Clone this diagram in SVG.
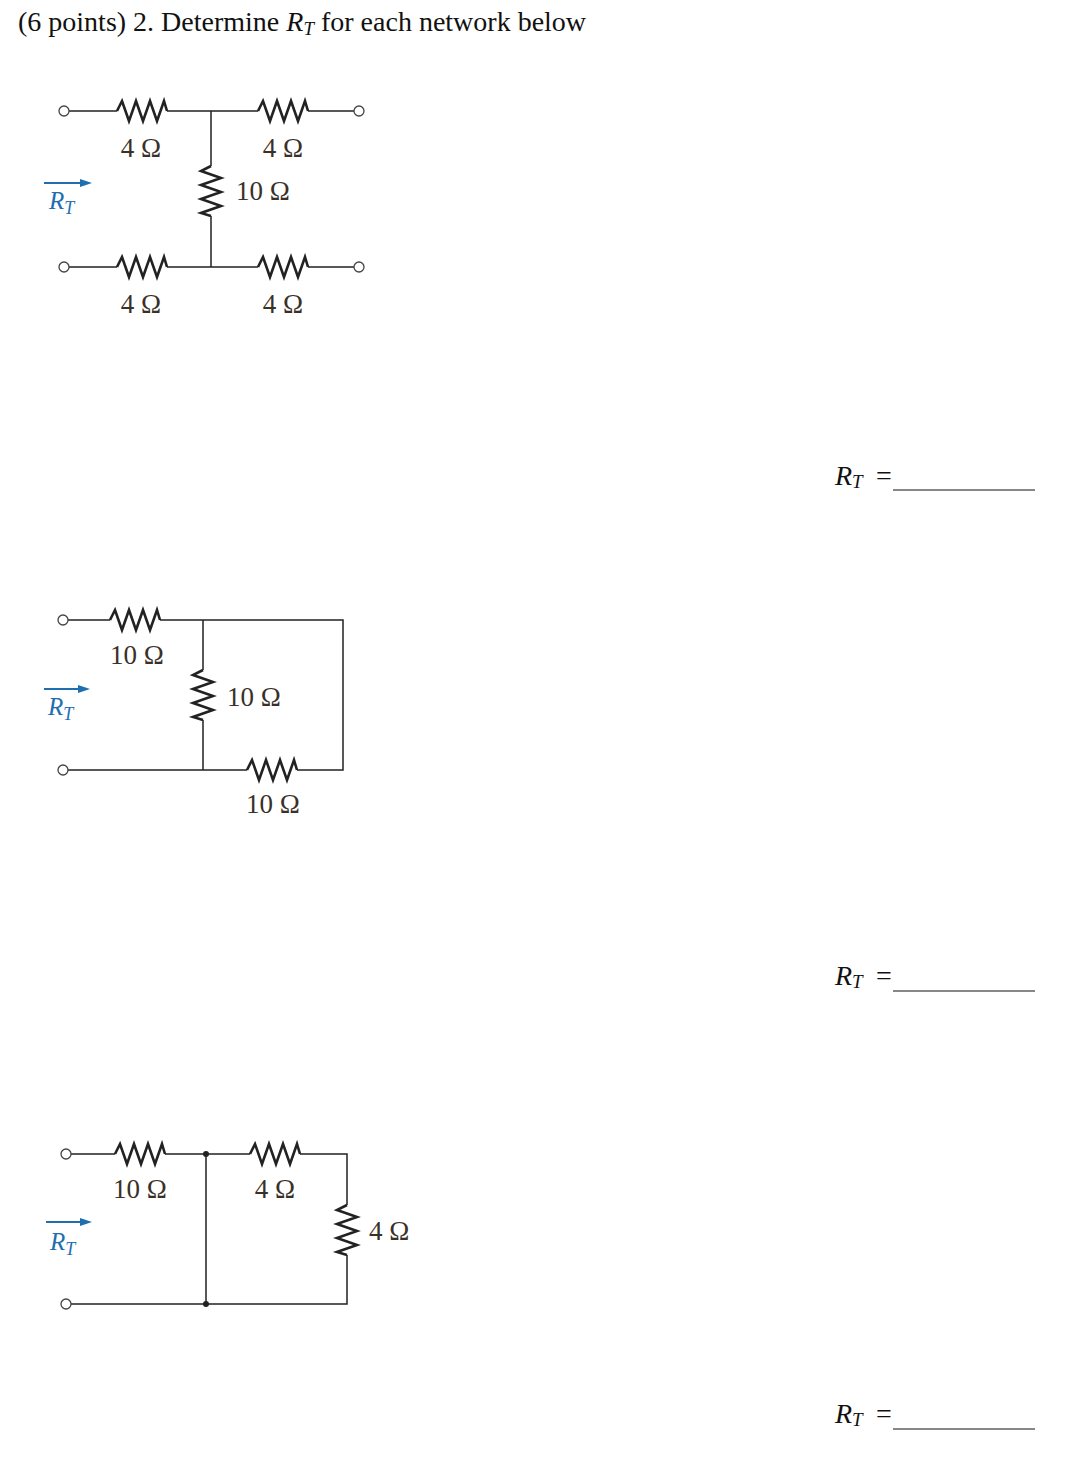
<svg xmlns="http://www.w3.org/2000/svg" width="1066" height="1482" viewBox="0 0 1066 1482">
<style>
.w{fill:none;stroke:#222;stroke-width:1.5}
.z{fill:none;stroke:#222;stroke-width:2.6;stroke-linejoin:miter}
.t{fill:#fff;stroke:#444;stroke-width:1.3}
.l{font-family:"Liberation Serif",serif;font-size:27px;fill:#3a3028}
.b{font-family:"Liberation Serif",serif;font-size:25px;font-style:italic;fill:#1f6fb0}
.a{stroke:#1f6fb0;stroke-width:2}
.q{font-family:"Liberation Serif",serif;font-size:28px;fill:#111}
</style>
<defs>
<polyline id="h" points="0,0 5,-10 12,10 19,-10 26,10 33,-10 40,10 47,-10 50,0"/>
<polyline id="v" points="0,0 -10,5 10,12 -10,19 10,26 -10,33 10,40 -10,47 0,50"/>
<path id="ar" d="M0,0 L-12,-4 L-12,4Z" fill="#1f6fb0"/>
</defs>
<text class="q" x="18" y="31">(6 points) 2. Determine <tspan font-style="italic">R</tspan><tspan font-style="italic" font-size="19" dy="4">T</tspan><tspan dy="-4"> for each network below</tspan></text>

<g id="connectors">
<path class="w" d="M69,111H117M167,111H258M308,111H354M211,111V166M211,216V267M69,267H117M167,267H258M308,267H354"/>
<path class="w" d="M68,620H110M160,620H343V770H297M247,770H68M203,620V670M203,720V770"/>
<path class="w" d="M71,1154H115M165,1154H250M300,1154H347V1205M347,1255V1304H71M206,1154V1304"/>
</g>

<g id="circuit1">
<use href="#h" class="z" x="117" y="111"/><use href="#h" class="z" x="258" y="111"/>
<use href="#h" class="z" x="117" y="267"/><use href="#h" class="z" x="258" y="267"/>
<use href="#v" class="z" x="211" y="166"/>
<circle class="t" cx="64" cy="111" r="5"/><circle class="t" cx="359" cy="111" r="5"/>
<circle class="t" cx="64" cy="267" r="5"/><circle class="t" cx="359" cy="267" r="5"/>
<text class="l" x="141" y="157" text-anchor="middle">4 Ω</text>
<text class="l" x="283" y="157" text-anchor="middle">4 Ω</text>
<text class="l" x="236" y="200">10 Ω</text>
<text class="l" x="141" y="313" text-anchor="middle">4 Ω</text>
<text class="l" x="283" y="313" text-anchor="middle">4 Ω</text>
<line class="a" x1="44" y1="183" x2="82" y2="183"/><use href="#ar" x="92" y="183"/>
<text class="b" x="49" y="209">R<tspan font-size="18" dy="5">T</tspan></text>
</g>

<g id="circuit2">
<use href="#h" class="z" x="110" y="620"/><use href="#h" class="z" x="247" y="770"/>
<use href="#v" class="z" x="203" y="670"/>
<circle class="t" cx="63" cy="620" r="5"/><circle class="t" cx="63" cy="770" r="5"/>
<text class="l" x="137" y="664" text-anchor="middle">10 Ω</text>
<text class="l" x="227" y="706">10 Ω</text>
<text class="l" x="273" y="813" text-anchor="middle">10 Ω</text>
<line class="a" x1="44" y1="689" x2="80" y2="689"/><use href="#ar" x="90" y="689"/>
<text class="b" x="48" y="715">R<tspan font-size="18" dy="5">T</tspan></text>
</g>

<g id="circuit3">
<use href="#h" class="z" x="115" y="1154"/><use href="#h" class="z" x="250" y="1154"/>
<use href="#v" class="z" x="347" y="1205"/>
<circle class="t" cx="66" cy="1154" r="5"/><circle class="t" cx="66" cy="1304" r="5"/>
<circle cx="206" cy="1154" r="3" fill="#222"/><circle cx="206" cy="1304" r="3" fill="#222"/>
<text class="l" x="140" y="1198" text-anchor="middle">10 Ω</text>
<text class="l" x="275" y="1198" text-anchor="middle">4 Ω</text>
<text class="l" x="369" y="1240">4 Ω</text>
<line class="a" x1="46" y1="1222" x2="82" y2="1222"/><use href="#ar" x="92" y="1222"/>
<text class="b" x="50" y="1250">R<tspan font-size="18" dy="5">T</tspan></text>
</g>

<g id="answers">
<text class="q" x="835" y="485" font-style="italic">R<tspan font-size="19" dy="3">T</tspan></text>
<text class="q" x="876" y="485">=</text><line x1="893" y1="490" x2="1035" y2="490" stroke="#111" stroke-width="1"/>
<text class="q" x="835" y="985" font-style="italic">R<tspan font-size="19" dy="3">T</tspan></text>
<text class="q" x="876" y="985">=</text><line x1="893" y1="991" x2="1035" y2="991" stroke="#111" stroke-width="1"/>
<text class="q" x="835" y="1423" font-style="italic">R<tspan font-size="19" dy="3">T</tspan></text>
<text class="q" x="876" y="1423">=</text><line x1="893" y1="1429" x2="1035" y2="1429" stroke="#111" stroke-width="1"/>
</g>
</svg>
